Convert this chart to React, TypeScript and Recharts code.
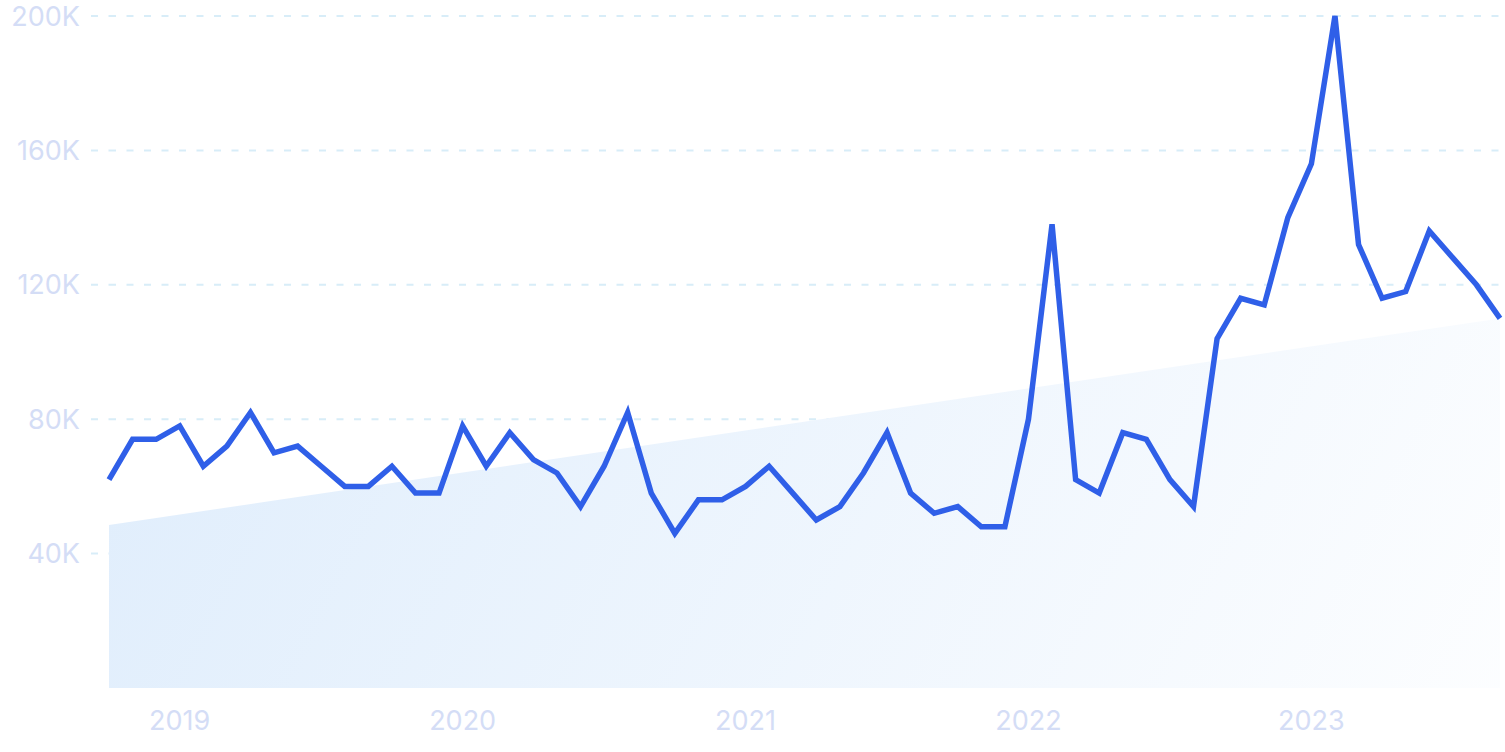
import React from 'react';
import { ComposedChart, Area, Line, XAxis, YAxis, CartesianGrid } from 'recharts';

const months = [
  '2018-10', '2018-11', '2018-12',
  '2019-01', '2019-02', '2019-03', '2019-04', '2019-05', '2019-06', '2019-07', '2019-08', '2019-09', '2019-10', '2019-11', '2019-12',
  '2020-01', '2020-02', '2020-03', '2020-04', '2020-05', '2020-06', '2020-07', '2020-08', '2020-09', '2020-10', '2020-11', '2020-12',
  '2021-01', '2021-02', '2021-03', '2021-04', '2021-05', '2021-06', '2021-07', '2021-08', '2021-09', '2021-10', '2021-11', '2021-12',
  '2022-01', '2022-02', '2022-03', '2022-04', '2022-05', '2022-06', '2022-07', '2022-08', '2022-09', '2022-10', '2022-11', '2022-12',
  '2023-01', '2023-02', '2023-03', '2023-04', '2023-05', '2023-06', '2023-07', '2023-08', '2023-09',
];

const searches = [
  62, 74, 74, 78, 66, 72, 82, 70, 72, 66, 60, 60, 66, 58, 58,
  78, 66, 76, 68, 64, 54, 66, 82, 58, 46, 56, 56,
  60, 66, 58, 50, 54, 64, 76, 58, 52, 54, 48, 48,
  80, 138, 62, 58, 76, 74, 62, 54, 104, 116, 114, 140,
  156, 200, 132, 116, 118, 136, 128, 120, 110,
];

// trend only has its two end values, the line between is drawn by connectNulls
const trendStart = 48.5;
const trendEnd = 110;

const yTicks = [40, 80, 120, 160, 200];
const xTicks = ['2019-01', '2020-01', '2021-01', '2022-01', '2023-01'];

const data = months.map((month, i) => ({
  month,
  searches: searches[i],
  trend: i === 0 ? trendStart : i === months.length - 1 ? trendEnd : null,
}));

const gridStroke = 'rgba(110, 190, 230, 0.27)';
const labelColor = '#d4ddf6';

const App: React.FC = () => {
  return (
    <div style={{ position: 'absolute', left: 0, top: 0, width: 1505, height: 752, background: '#fff' }}>
      <ComposedChart
        width={1505}
        height={752}
        data={data}
        margin={{ top: 16, right: 5, bottom: 0, left: 0 }}
      >
        <defs>
          <linearGradient id="trendFill" gradientUnits="userSpaceOnUse" x1="109" y1="300" x2="1500" y2="1000">
            <stop offset="0%" stopColor="#dfedfc" />
            <stop offset="100%" stopColor="#ffffff" />
          </linearGradient>
        </defs>
        <XAxis
          dataKey="month"
          ticks={xTicks}
          height={64}
          tickFormatter={(v: string) => v.slice(0, 4)}
          axisLine={false}
          tickLine={false}
          interval={0}
          tick={{ fill: labelColor, fontSize: 27, fontWeight: 400, fontFamily: 'Inter' }}
          tickMargin={17}
        />
        <YAxis
          domain={[0, 200]}
          ticks={yTicks}
          tickFormatter={(v: number) => `${v}K`}
          axisLine={false}
          tickLine={{ stroke: gridStroke, strokeWidth: 2, strokeDasharray: '7 10.5' }}
          tickSize={18}
          tickMargin={11}
          width={109}
          interval={0}
          tick={{ fill: labelColor, fontSize: 27, fontWeight: 400, fontFamily: 'Inter' }}
        />
        <Area
          dataKey="trend"
          connectNulls
          type="linear"
          stroke="none"
          fill="url(#trendFill)"
          fillOpacity={1}
          dot={false}
          activeDot={false}
          isAnimationActive={false}
        />
        <CartesianGrid
          vertical={false}
          horizontalValues={yTicks}
          stroke={gridStroke}
          strokeWidth={2}
          strokeDasharray="7 10.5"
        />
        <Line
          dataKey="searches"
          type="linear"
          stroke="#2f5fe8"
          strokeWidth={5.5}
          dot={false}
          activeDot={false}
          isAnimationActive={false}
        />
      </ComposedChart>
    </div>
  );
};

export default App;
